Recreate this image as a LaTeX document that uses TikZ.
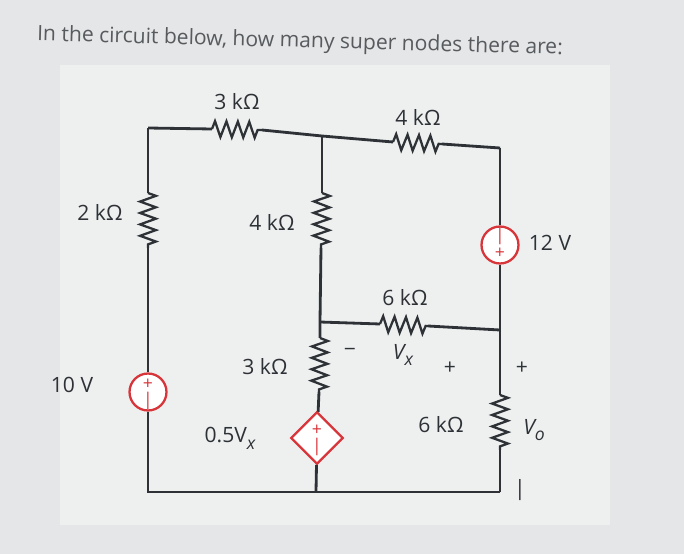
\documentclass[tikz,border=0pt]{standalone}
\usepackage{fontspec}
\setmainfont{Open Sans}
\usetikzlibrary{decorations.pathmorphing,shapes.geometric}
\definecolor{bg}{HTML}{E4E6E8}
\definecolor{panel}{HTML}{EEF0F0}
\definecolor{ink}{HTML}{2E3236}
\definecolor{srcred}{HTML}{D8353A}
\tikzset{
 wire/.style={ink,line width=1.6pt},
 res/.style={ink,line width=1.3pt,decorate,decoration={zigzag,segment length=6.5pt,amplitude=4.5pt}},
 lbl/.style={text=ink,font=\large},
 sgn/.style={text=srcred,font=\normalsize,inner sep=0pt},
 src/.style={circle,draw=srcred,line width=1.3pt,fill=white,inner sep=0pt,minimum size=0.74cm},
 dsrc/.style={diamond,draw=srcred,line width=1.3pt,fill=white,inner sep=0pt,minimum size=1.05cm}
}
\begin{document}
\begin{tikzpicture}[x=0.02cm,y=-0.02cm]
\fill[bg] (0,0) rectangle (684,554);
\fill[panel] (60,65) rectangle (610,525);
\node[text=ink!80,font=\large,rotate=-1.5] (q) at (300,42) {In the circuit below, how many super nodes there are:};
\coordinate (tl) at (148,128);
\coordinate (tm) at (322,136);
\coordinate (tr) at (500,148);
\coordinate (bl) at (148,492);
\coordinate (bm) at (316,492);
\coordinate (br) at (500,492);
\coordinate (mj) at (320,322);
\coordinate (rj) at (500,330);
\coordinate (r1a) at (212,129); \coordinate (r1b) at (262,130);
\coordinate (r2a) at (393,142); \coordinate (r2b) at (442,144);
\draw[wire] (tl) -- (r1a); \draw[res] (r1a) -- (r1b); \draw[wire] (r1b) -- (tm) -- (r2a);
\draw[res] (r2a) -- (r2b); \draw[wire] (r2b) -- (tr);
\node[lbl] (l1) at (237,102) {3 kΩ};
\node[lbl] (l2) at (418,117) {4 kΩ};
\coordinate (r3a) at (148,193); \coordinate (r3b) at (148,248);
\node[src] (v10) at (148,392) {};
\draw[wire] (tl) -- (r3a); \draw[res] (r3a) -- (r3b); \draw[wire] (r3b) -- (v10) -- (bl) -- (br);
\node[sgn] (v10p) at (148,384) {+};
\node[sgn] (v10m) at (148,401) {|};
\node[lbl] (l3) at (100,212) {2 kΩ};
\node[lbl] (l10) at (72,385) {10 V};
\coordinate (r4a) at (322,193); \coordinate (r4b) at (321,248);
\coordinate (r5a) at (320,338); \coordinate (r5b) at (319,392);
\node[dsrc] (ds) at (317,438) {};
\draw[wire] (tm) -- (r4a); \draw[res] (r4a) -- (r4b); \draw[wire] (r4b) -- (mj) -- (r5a);
\draw[res] (r5a) -- (r5b); \draw[wire] (r5b) -- (ds) -- (bm);
\node[sgn] (dsp) at (317,430) {+};
\node[sgn] (dsm) at (317,447) {|};
\node[lbl] (l4) at (272,222) {4 kΩ};
\node[lbl] (l5) at (265,367) {3 kΩ};
\node[lbl] (l05) at (230,438) {0.5V\raisebox{-0.6ex}{\normalsize\itshape x}};
\coordinate (r6a) at (380,324); \coordinate (r6b) at (428,326);
\draw[wire] (mj) -- (r6a); \draw[res] (r6a) -- (r6b); \draw[wire] (r6b) -- (rj);
\node[lbl] (l6) at (405,298) {6 kΩ};
\node[lbl] (m1) at (350,352) {−};
\node[lbl] (vx) at (403,355) {\itshape V\raisebox{-0.6ex}{\normalsize x}};
\node[lbl] (p1) at (450,368) {+};
\node[src] (v12) at (500,245) {};
\coordinate (r7a) at (500,395); \coordinate (r7b) at (500,450);
\draw[wire] (tr) -- (v12) -- (rj) -- (r7a); \draw[res] (r7a) -- (r7b); \draw[wire] (r7b) -- (br);
\node[sgn] (v12m) at (500,236) {|};
\node[sgn] (v12p) at (500,253) {+};
\node[lbl] (l12) at (550,243) {12 V};
\node[lbl] (l7) at (441,425) {6 kΩ};
\node[lbl] (p2) at (522,368) {+};
\node[lbl] (vo) at (534,430) {\itshape V\raisebox{-0.6ex}{\normalsize o}};
\node[lbl] (m2) at (520,490) {|};
\end{tikzpicture}
\end{document}
